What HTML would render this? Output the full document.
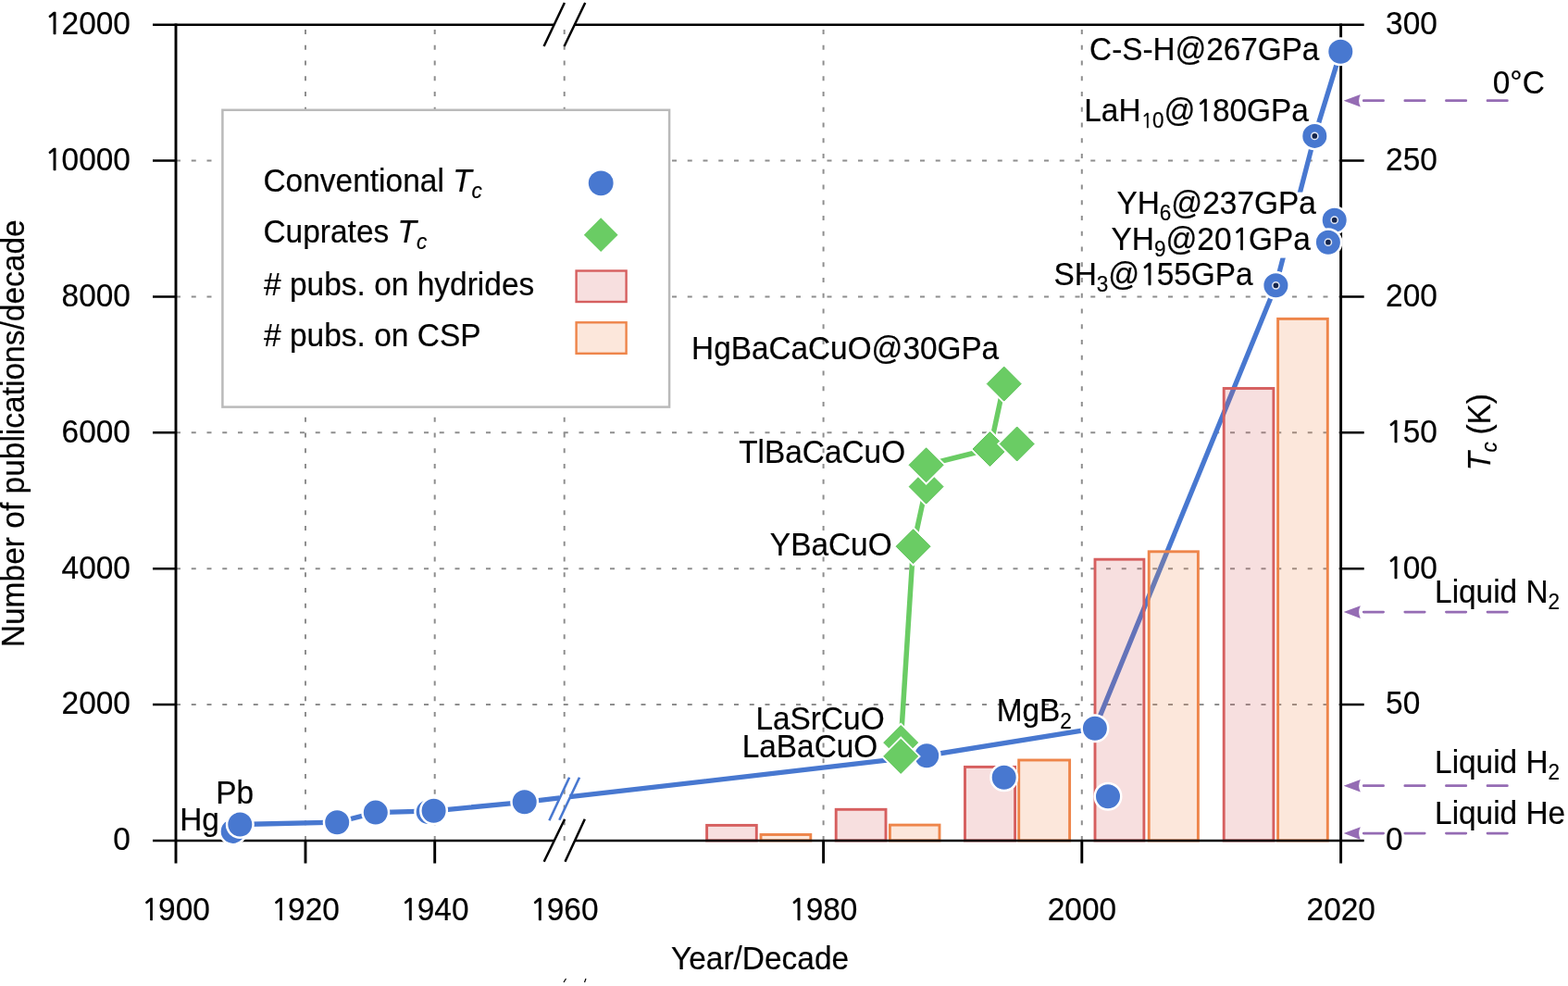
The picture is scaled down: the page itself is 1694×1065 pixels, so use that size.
<!DOCTYPE html>
<html><head><meta charset="utf-8"><title>Tc chart</title><style>html,body{margin:0;padding:0;background:#fff;overflow:hidden}svg{display:block}</style></head><body>
<svg width="1694" height="1065" viewBox="0 0 1694 1065" font-family='"Liberation Sans", Arial, Helvetica, sans-serif' font-size="33">
<rect width="1694" height="1065" fill="#fff"/>
<g stroke="#8e8e8e" stroke-width="2.0" stroke-dasharray="5 11.75"><line x1="330.0" y1="907.9" x2="330.0" y2="27.7"/><line x1="469.7" y1="907.9" x2="469.7" y2="27.7"/><line x1="609.7" y1="907.9" x2="609.7" y2="27.7"/><line x1="889.6" y1="907.9" x2="889.6" y2="27.7"/><line x1="1168.8" y1="907.9" x2="1168.8" y2="27.7"/><line x1="190.0" y1="761.0" x2="1448.6" y2="761.0"/><line x1="190.0" y1="614.2" x2="1448.6" y2="614.2"/><line x1="190.0" y1="467.3" x2="1448.6" y2="467.3"/><line x1="190.0" y1="320.4" x2="1448.6" y2="320.4"/><line x1="190.0" y1="173.6" x2="1448.6" y2="173.6"/></g>
<rect x="240.5" y="119" width="482.5" height="320.5" fill="#fff"/>
<polyline points="259.3,890.5 364.2,888.2 405.8,877.6 468.6,875.8 566.7,866.3 604.5,861.9" fill="none" stroke="#4878D0" stroke-width="5.3" stroke-linejoin="round"/>
<polyline points="615.5,860.7 1001.2,816.2 1182.9,786.8 1378.4,308.3 1420.3,146.9 1448.3,55.7" fill="none" stroke="#4878D0" stroke-width="5.3" stroke-linejoin="round"/>
<rect x="1380" y="207.6" width="35" height="71" fill="#fff"/>
<rect x="763.6" y="891.4" width="53.7" height="16.5" fill="#D65F5F" fill-opacity="0.2" stroke="#D65F5F" stroke-width="2.9"/>
<rect x="822.0" y="901.5" width="53.8" height="6.4" fill="#EE854A" fill-opacity="0.2" stroke="#EE854A" stroke-width="2.9"/>
<rect x="903.2" y="874.3" width="53.8" height="33.6" fill="#D65F5F" fill-opacity="0.2" stroke="#D65F5F" stroke-width="2.9"/>
<rect x="961.4" y="891.1" width="53.6" height="16.8" fill="#EE854A" fill-opacity="0.2" stroke="#EE854A" stroke-width="2.9"/>
<rect x="1042.5" y="828.4" width="54.1" height="79.5" fill="#D65F5F" fill-opacity="0.2" stroke="#D65F5F" stroke-width="2.9"/>
<rect x="1100.7" y="821.0" width="54.9" height="86.9" fill="#EE854A" fill-opacity="0.2" stroke="#EE854A" stroke-width="2.9"/>
<rect x="1183.0" y="604.2" width="52.9" height="303.7" fill="#D65F5F" fill-opacity="0.2" stroke="#D65F5F" stroke-width="2.9"/>
<rect x="1241.2" y="595.8" width="53.2" height="312.1" fill="#EE854A" fill-opacity="0.2" stroke="#EE854A" stroke-width="2.9"/>
<rect x="1322.2" y="419.5" width="53.7" height="488.4" fill="#D65F5F" fill-opacity="0.2" stroke="#D65F5F" stroke-width="2.9"/>
<rect x="1380.6" y="344.4" width="53.7" height="563.5" fill="#EE854A" fill-opacity="0.2" stroke="#EE854A" stroke-width="2.9"/>
<path d="M165,26.7 H598 M621,26.7 H1473.7 M165,907.9 H598 M621,907.9 H1473.7 M165,761.0 H190.0 M165,614.2 H190.0 M165,467.3 H190.0 M165,320.4 H190.0 M165,173.6 H190.0 M1448.6,761.0 H1473.7 M1448.6,614.2 H1473.7 M1448.6,467.3 H1473.7 M1448.6,320.4 H1473.7 M1448.6,173.6 H1473.7" fill="none" stroke="#000" stroke-width="2.5"/>
<path d="M190.0,25.5 V909.1 M1448.6,25.5 V909.1 M190.0,907.9 V932.5 M330.0,907.9 V932.5 M469.7,907.9 V932.5 M889.6,907.9 V932.5 M1168.8,907.9 V932.5 M1448.6,907.9 V932.5" fill="none" stroke="#000" stroke-width="2.9"/>
<path d="M587.6,50 L609.9,3 M609.6,50 L632.2,3 M587.7,930.7 L610.1,884.7 M610.5,930.7 L631.8,884.7" stroke="#000" stroke-width="2.5" fill="none"/>
<path d="M593.4,886.3 L615.1,839.8 M604.3,885.8 L626,839.8" stroke="#4878D0" stroke-width="2.6" fill="none"/>
<path d="M609,1061 L611.5,1057 M631.5,1061 L633,1057" stroke="#000" stroke-width="1.2" fill="none"/>
<circle cx="251.7" cy="897.9" r="14.25" fill="#4878D0" stroke="#fff" stroke-width="2.5"/>
<circle cx="259.3" cy="890.5" r="14.25" fill="#4878D0" stroke="#fff" stroke-width="2.5"/>
<circle cx="364.2" cy="888.2" r="14.25" fill="#4878D0" stroke="#fff" stroke-width="2.5"/>
<circle cx="405.8" cy="877.6" r="14.25" fill="#4878D0" stroke="#fff" stroke-width="2.5"/>
<circle cx="462.7" cy="877.0" r="14.25" fill="#4878D0" stroke="#fff" stroke-width="2.5"/>
<circle cx="468.6" cy="875.8" r="14.25" fill="#4878D0" stroke="#fff" stroke-width="2.5"/>
<circle cx="566.7" cy="866.3" r="14.25" fill="#4878D0" stroke="#fff" stroke-width="2.5"/>
<circle cx="1001.2" cy="816.2" r="14.25" fill="#4878D0" stroke="#fff" stroke-width="2.5"/>
<circle cx="1084.7" cy="839.7" r="14.25" fill="#4878D0" stroke="#fff" stroke-width="2.5"/>
<circle cx="1182.9" cy="786.8" r="14.25" fill="#4878D0" stroke="#fff" stroke-width="2.5"/>
<circle cx="1197.0" cy="860.3" r="14.25" fill="#4878D0" stroke="#fff" stroke-width="2.5"/>
<circle cx="1378.4" cy="308.3" r="14.25" fill="#4878D0" stroke="#fff" stroke-width="2.5"/><circle cx="1378.4" cy="308.3" r="3.6" fill="#14244a" stroke="#e4e9f4" stroke-width="1.5"/>
<circle cx="1441.7" cy="237.7" r="14.25" fill="#4878D0" stroke="#fff" stroke-width="2.5"/><circle cx="1441.7" cy="237.7" r="3.6" fill="#14244a" stroke="#e4e9f4" stroke-width="1.5"/>
<circle cx="1434.9" cy="261.7" r="14.25" fill="#4878D0" stroke="#fff" stroke-width="2.5"/><circle cx="1434.9" cy="261.7" r="3.6" fill="#14244a" stroke="#e4e9f4" stroke-width="1.5"/>
<circle cx="1420.3" cy="146.9" r="14.25" fill="#4878D0" stroke="#fff" stroke-width="2.5"/><circle cx="1420.3" cy="146.9" r="3.6" fill="#14244a" stroke="#e4e9f4" stroke-width="1.5"/>
<circle cx="1448.3" cy="55.7" r="14.25" fill="#4878D0" stroke="#fff" stroke-width="2.5"/>
<polyline points="973.2,802.1 986.6,590.2 1000.6,525.6 1000.6,502.3 1069.5,485.0 1084.7,414.6" fill="none" stroke="#6ACC64" stroke-width="5.5" stroke-linejoin="round"/>
<polygon points="973.2,782.0 993.3,802.1 973.2,822.2 953.1,802.1" fill="#6ACC64" stroke="#fff" stroke-width="2.2" stroke-linejoin="miter"/><polygon points="973.2,783.6 991.7,802.1 973.2,820.6 954.7,802.1" fill="none" stroke="#58bf53" stroke-width="0.9"/>
<polygon points="973.2,796.8 993.3,816.9 973.2,837.0 953.1,816.9" fill="#6ACC64" stroke="#fff" stroke-width="2.2" stroke-linejoin="miter"/><polygon points="973.2,798.4 991.7,816.9 973.2,835.4 954.7,816.9" fill="none" stroke="#58bf53" stroke-width="0.9"/>
<polygon points="986.6,570.1 1006.7,590.2 986.6,610.3 966.5,590.2" fill="#6ACC64" stroke="#fff" stroke-width="2.2" stroke-linejoin="miter"/><polygon points="986.6,571.7 1005.1,590.2 986.6,608.7 968.1,590.2" fill="none" stroke="#58bf53" stroke-width="0.9"/>
<polygon points="1000.6,505.5 1020.7,525.6 1000.6,545.7 980.5,525.6" fill="#6ACC64" stroke="#fff" stroke-width="2.2" stroke-linejoin="miter"/><polygon points="1000.6,507.1 1019.1,525.6 1000.6,544.1 982.1,525.6" fill="none" stroke="#58bf53" stroke-width="0.9"/>
<polygon points="1000.6,482.2 1020.7,502.3 1000.6,522.4 980.5,502.3" fill="#6ACC64" stroke="#fff" stroke-width="2.2" stroke-linejoin="miter"/><polygon points="1000.6,483.8 1019.1,502.3 1000.6,520.8 982.1,502.3" fill="none" stroke="#58bf53" stroke-width="0.9"/>
<polygon points="1069.5,464.9 1089.6,485.0 1069.5,505.1 1049.4,485.0" fill="#6ACC64" stroke="#fff" stroke-width="2.2" stroke-linejoin="miter"/><polygon points="1069.5,466.5 1088.0,485.0 1069.5,503.5 1051.0,485.0" fill="none" stroke="#58bf53" stroke-width="0.9"/>
<polygon points="1098.7,459.4 1118.8,479.5 1098.7,499.6 1078.6,479.5" fill="#6ACC64" stroke="#fff" stroke-width="2.2" stroke-linejoin="miter"/><polygon points="1098.7,461.0 1117.2,479.5 1098.7,498.0 1080.2,479.5" fill="none" stroke="#58bf53" stroke-width="0.9"/>
<polygon points="1084.7,394.5 1104.8,414.6 1084.7,434.7 1064.6,414.6" fill="#6ACC64" stroke="#fff" stroke-width="2.2" stroke-linejoin="miter"/><polygon points="1084.7,396.1 1103.2,414.6 1084.7,433.1 1066.2,414.6" fill="none" stroke="#58bf53" stroke-width="0.9"/>
<line x1="1628.4" y1="108.7" x2="1468" y2="108.7" stroke="#956CB4" stroke-width="2.7" stroke-linecap="round" stroke-dasharray="21.4 23.2"/>
<path d="M1451.6,108.7 L1469.8,101.9 Q1466.4,108.7 1469.8,115.5 Z" fill="#956CB4"/>
<line x1="1628.4" y1="661.1" x2="1468" y2="661.1" stroke="#956CB4" stroke-width="2.7" stroke-linecap="round" stroke-dasharray="21.4 23.2"/>
<path d="M1451.6,661.1 L1469.8,654.3 Q1466.4,661.1 1469.8,667.9 Z" fill="#956CB4"/>
<line x1="1628.4" y1="848.7" x2="1468" y2="848.7" stroke="#956CB4" stroke-width="2.7" stroke-linecap="round" stroke-dasharray="21.4 23.2"/>
<path d="M1451.6,848.7 L1469.8,841.9 Q1466.4,848.7 1469.8,855.5 Z" fill="#956CB4"/>
<line x1="1628.4" y1="900.1" x2="1468" y2="900.1" stroke="#956CB4" stroke-width="2.7" stroke-linecap="round" stroke-dasharray="21.4 23.2"/>
<path d="M1451.6,900.1 L1469.8,893.3 Q1466.4,900.1 1469.8,906.9 Z" fill="#956CB4"/>
<g fill="#000" stroke="#000" stroke-width="0.2"><text transform="translate(122.33,918.30) scale(1,1.04)" font-size="33.40">0</text><text transform="translate(66.62,771.43) scale(1,1.04)" font-size="33.40">2000</text><text transform="translate(66.62,624.57) scale(1,1.04)" font-size="33.40">4000</text><text transform="translate(66.62,477.70) scale(1,1.04)" font-size="33.40">6000</text><text transform="translate(66.62,330.83) scale(1,1.04)" font-size="33.40">8000</text><text transform="translate(48.05,183.97) scale(1,1.04)" font-size="33.40"><tspan font-family="NanumGothic" font-size="31.40" dx="0.45" letter-spacing="-0.92" stroke-width="0.70">1</tspan>0000</text><text transform="translate(48.05,37.10) scale(1,1.04)" font-size="33.40"><tspan font-family="NanumGothic" font-size="31.40" dx="0.45" letter-spacing="-0.92" stroke-width="0.70">1</tspan>2000</text><text transform="translate(1497.10,918.30) scale(1,1.04)" font-size="33.40">0</text><text transform="translate(1497.10,771.43) scale(1,1.04)" font-size="33.40">50</text><text transform="translate(1497.10,624.57) scale(1,1.04)" font-size="33.40"><tspan font-family="NanumGothic" font-size="31.40" dx="0.45" letter-spacing="-0.92" stroke-width="0.70">1</tspan>00</text><text transform="translate(1497.10,477.70) scale(1,1.04)" font-size="33.40"><tspan font-family="NanumGothic" font-size="31.40" dx="0.45" letter-spacing="-0.92" stroke-width="0.70">1</tspan>50</text><text transform="translate(1497.10,330.83) scale(1,1.04)" font-size="33.40">200</text><text transform="translate(1497.10,183.97) scale(1,1.04)" font-size="33.40">250</text><text transform="translate(1497.10,37.10) scale(1,1.04)" font-size="33.40">300</text><text transform="translate(152.54,993.50) scale(1,1.04)" font-size="33.40"><tspan font-family="NanumGothic" font-size="31.40" dx="0.45" letter-spacing="-0.92" stroke-width="0.70">1</tspan>900</text><text transform="translate(292.54,993.50) scale(1,1.04)" font-size="33.40"><tspan font-family="NanumGothic" font-size="31.40" dx="0.45" letter-spacing="-0.92" stroke-width="0.70">1</tspan>920</text><text transform="translate(432.24,993.50) scale(1,1.04)" font-size="33.40"><tspan font-family="NanumGothic" font-size="31.40" dx="0.45" letter-spacing="-0.92" stroke-width="0.70">1</tspan>940</text><text transform="translate(572.24,993.50) scale(1,1.04)" font-size="33.40"><tspan font-family="NanumGothic" font-size="31.40" dx="0.45" letter-spacing="-0.92" stroke-width="0.70">1</tspan>960</text><text transform="translate(852.14,993.50) scale(1,1.04)" font-size="33.40"><tspan font-family="NanumGothic" font-size="31.40" dx="0.45" letter-spacing="-0.92" stroke-width="0.70">1</tspan>980</text><text transform="translate(1131.77,993.50) scale(1,1.04)" font-size="33.40">2000</text><text transform="translate(1411.57,993.50) scale(1,1.04)" font-size="33.40">2020</text><text transform="translate(724.96,1046.50) scale(1,1.04)" font-size="33.46">Year/Decade</text><text transform="translate(26.3,699.25) rotate(-90) scale(1,1.04)" font-size="33.53">Number of publications/decade</text><text transform="translate(1609.5,508.50) rotate(-90) scale(1,1.04)" font-size="33.4"><tspan font-style="italic">T</tspan><tspan font-style="italic" font-size="22.5" dy="6.9" dx="-0.5">c</tspan><tspan dy="-6.9" dx="-1.5"> (K)</tspan></text><text transform="translate(284.40,206.80) scale(1,1.04)" font-size="33.50">Conventional <tspan font-style="italic">T</tspan><tspan font-size="22.57" dy="6.92" font-style="italic">c</tspan></text><text transform="translate(284.40,262.30) scale(1,1.04)" font-size="33.50">Cuprates <tspan font-style="italic">T</tspan><tspan font-size="22.57" dy="6.92" font-style="italic">c</tspan></text><text transform="translate(285.05,318.80) scale(1,1.04)" font-size="33.50"># pubs. on hydrides</text><text transform="translate(285.05,374.40) scale(1,1.04)" font-size="33.50"># pubs. on CSP</text><text transform="translate(1177.11,64.50) scale(1,1.04)" font-size="33.27">C-S-H@267GPa</text><text transform="translate(1171.26,131.00) scale(1,1.04)" font-size="33.40">LaH<tspan font-size="22.50" dy="6.90"><tspan font-family="NanumGothic" font-size="21.15" dx="0.30" letter-spacing="-0.62" stroke-width="0.47">1</tspan>0</tspan><tspan dy="-6.90">@<tspan font-family="NanumGothic" font-size="31.40" dx="0.45" letter-spacing="-0.92" stroke-width="0.70">1</tspan>80GPa</tspan></text><text transform="translate(1206.47,231.30) scale(1,1.04)" font-size="33.40">YH<tspan font-size="22.50" dy="6.90">6</tspan><tspan dy="-6.90">@237GPa</tspan></text><text transform="translate(1200.57,269.90) scale(1,1.04)" font-size="33.40">YH<tspan font-size="22.50" dy="6.90">9</tspan><tspan dy="-6.90">@20<tspan font-family="NanumGothic" font-size="31.40" dx="0.45" letter-spacing="-0.92" stroke-width="0.70">1</tspan>GPa</tspan></text><text transform="translate(1138.38,307.90) scale(1,1.04)" font-size="33.40">SH<tspan font-size="22.50" dy="6.90">3</tspan><tspan dy="-6.90">@<tspan font-family="NanumGothic" font-size="31.40" dx="0.45" letter-spacing="-0.92" stroke-width="0.70">1</tspan>55GPa</tspan></text><text transform="translate(747.07,388.20) scale(1,1.04)" font-size="33.33">HgBaCaCuO@30GPa</text><text transform="translate(798.15,499.60) scale(1,1.04)" font-size="33.40">TlBaCaCuO</text><text transform="translate(831.87,599.70) scale(1,1.04)" font-size="33.40">YBaCuO</text><text transform="translate(816.46,787.80) scale(1,1.04)" font-size="33.40">LaSrCuO</text><text transform="translate(801.66,818.20) scale(1,1.04)" font-size="33.40">LaBaCuO</text><text transform="translate(1076.66,779.40) scale(1,1.04)" font-size="33.40">MgB<tspan font-size="22.50" dy="6.90">2</tspan></text><text transform="translate(194.16,896.50) scale(1,1.04)" font-size="33.40">Hg</text><text transform="translate(233.16,868.40) scale(1,1.04)" font-size="33.40">Pb</text><text transform="translate(1612.80,100.50) scale(1,1.04)" font-size="33.40">0°C</text><text transform="translate(1550.06,650.80) scale(1,1.04)" font-size="33.40">Liquid N<tspan font-size="22.50" dy="6.90">2</tspan></text><text transform="translate(1550.06,835.20) scale(1,1.04)" font-size="33.40">Liquid H<tspan font-size="22.50" dy="6.90">2</tspan></text><text transform="translate(1550.06,890.10) scale(1,1.04)" font-size="33.40">Liquid He</text></g>
<rect x="240.4" y="118.8" width="482.7" height="320.8" fill="none" stroke="#bababa" stroke-width="2.5"/>
<circle cx="649.2" cy="197.8" r="13.4" fill="#4878D0"/>
<polygon points="649.2,235.3 667.6,253.7 649.2,272.1 630.8,253.7" fill="#6ACC64" stroke="none" stroke-width="0" stroke-linejoin="miter"/>
<rect x="622.6" y="292.5" width="54" height="33.5" fill="#D65F5F" fill-opacity="0.2" stroke="#D65F5F" stroke-width="2.4"/>
<rect x="622.6" y="348.3" width="54" height="33.5" fill="#EE854A" fill-opacity="0.2" stroke="#EE854A" stroke-width="2.4"/>
</svg>
</body></html>
